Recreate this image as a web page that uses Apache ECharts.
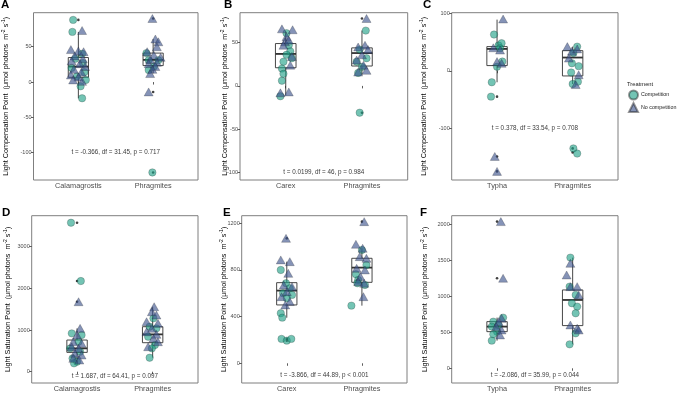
<!DOCTYPE html>
<html>
<head>
<meta charset="utf-8">
<script src="https://cdn.jsdelivr.net/npm/echarts@6/dist/echarts.min.js"></script>
<style>
html, body { margin: 0; padding: 0; background: #fff; }
#chart { width: 685px; height: 395px; }
</style>
</head>
<body>
<div id="chart"></div>
<script>
const FONT = "'Liberation Sans', Arial, sans-serif";

// categories per panel (A..F)
const panelLetters = ["A", "B", "C", "D", "E", "F"];
const panelCategories = [
	["Calamagrostis", "Phragmites"],
	["Carex", "Phragmites"],
	["Typha", "Phragmites"],
	["Calamagrostis", "Phragmites"],
	["Carex", "Phragmites"],
	["Typha", "Phragmites"],
];
const testLabels = [
	"t = -0.366, df = 31.45, p = 0.717",
	"t = 0.0199, df = 46, p = 0.984",
	"t = 0.378, df = 33.54, p = 0.708",
	"t = 1.687, df = 64.41, p = 0.097",
	"t = -3.866, df = 44.89, p < 0.001",
	"t = -2.086, df = 35.99, p = 0.044",
];
const labelPos = [1.5, -100];

// points: [jitter, value]
const aCalComp = [[-0.07, 88], [-0.08, 71], [0.05, 40], [-0.04, 33], [0.06, 27], [-0.09, 20], [0.08, 14], [-0.02, 8], [0.1, 3], [0.03, -6], [0.05, -23]];
const aCalNoComp = [[0.05, 73], [-0.1, 46], [0.0, 44], [0.07, 43], [-0.05, 37], [0.06, 33], [-0.09, 30], [0.02, 26], [0.09, 22], [-0.06, 18], [0.04, 14], [-0.1, 10], [0.0, 7], [-0.07, 3], [0.05, 1]];
const aPhrComp = [[-0.09, 41], [-0.06, 31], [0.07, 31], [0.01, 22], [-0.06, 17], [-0.01, -128]];
const aPhrNoComp = [[-0.01, 90], [0.03, 61], [0.07, 57], [0.05, 50], [-0.08, 43], [0.01, 38], [0.1, 35], [-0.04, 32], [0.05, 28], [-0.06, 26], [0.03, 22], [-0.01, 18], [-0.04, 12], [-0.06, -14]];
const aBoxes = [[-23, 6.7, 21.9, 34.7, 71], [12.4, 23.3, 31.4, 41, 61]];
const aOutliers = [[88], [90, -14, -128]];

const bCarComp = [[0.01, 61], [0.04, 47], [0.06, 40], [0.01, 36], [0.08, 32], [-0.03, 28], [-0.05, 20], [-0.03, 14], [-0.05, 6], [-0.07, -12]];
const bCarNoComp = [[-0.05, 66], [0.09, 65], [0.01, 57], [-0.01, 51], [-0.03, 47], [0.04, 53], [0.08, 34], [0.06, 24], [-0.07, -8], [0.04, -7]];
const bPhrComp = [[0.05, 64], [-0.03, 42], [-0.07, 28], [0.06, 32], [0.0, 22], [-0.05, 15], [-0.03, -31]];
const bPhrNoComp = [[0.06, 78], [-0.05, 45], [0.04, 47], [0.08, 42], [0.0, 36], [-0.07, 30], [0.02, 24], [0.06, 18], [-0.05, 16]];
const bBoxes = [[-11, 21, 37, 49, 63], [13, 23, 38, 44, 64]];
const bOutliers = [[], [78, -31]];

const cTypComp = [[-0.04, 63], [0.02, 44], [0.06, 48], [0.04, 39], [0.07, 16], [0.0, 7], [-0.07, -20], [-0.08, -45]];
const cTypNoComp = [[0.08, 90], [-0.05, 40], [0.0, 16], [0.06, 13], [0.04, 36], [-0.03, -149], [0.0, -175]];
const cPhrComp = [[0.06, 42], [0.01, 31], [-0.01, 13], [0.08, 8], [-0.02, -3], [0.07, -19], [0.0, -23], [0.01, -135], [0.06, -144]];
const cPhrNoComp = [[-0.07, 42], [-0.01, 34], [0.06, 38], [-0.05, 22], [0.08, -7], [0.04, -24]];
const cBoxes = [[-20, 9, 38, 42, 89], [-23, -9, 23, 35, 42]];
const cOutliers = [[-45, -149, -175], [-135, -142]];

const dCalComp = [[-0.08, 3576], [0.05, 2176], [-0.07, 920], [0.02, 720], [-0.09, 560], [0.04, 480], [-0.06, 320], [0.0, 240], [-0.04, 200], [0.06, 880]];
const dCalNoComp = [[0.02, 1680], [0.04, 1040], [0.0, 880], [-0.05, 720], [0.06, 680], [-0.07, 600], [0.02, 560], [-0.03, 440], [0.06, 400], [-0.05, 320], [0.03, 280]];
const dPhrComp = [[0.01, 1280], [-0.04, 1080], [0.05, 1040], [-0.06, 840], [0.03, 640], [-0.01, 560], [-0.04, 336]];
const dPhrNoComp = [[0.02, 1560], [-0.01, 1440], [0.05, 1360], [-0.08, 1200], [0.07, 1160], [-0.01, 1040], [-0.08, 960], [0.05, 896], [0.01, 800], [0.07, 720], [-0.06, 600]];
const dBoxes = [[200, 464, 560, 760, 1040], [336, 696, 896, 1080, 1560]];
const dOutliers = [[3576, 2176, 1680], []];

const eCarComp = [[-0.08, 800], [-0.01, 686], [0.04, 643], [-0.05, 600], [0.07, 586], [0.0, 557], [-0.08, 429], [-0.06, 391], [-0.07, 209], [0.0, 194], [0.06, 209]];
const eCarNoComp = [[-0.01, 1071], [-0.08, 886], [0.04, 871], [0.02, 771], [-0.04, 671], [0.07, 657], [0.0, 614], [-0.07, 571], [0.04, 529], [-0.02, 500]];
const ePhrComp = [[0.0, 971], [0.06, 843], [-0.08, 763], [-0.05, 714], [-0.06, 686], [0.04, 671], [-0.14, 494]];
const ePhrNoComp = [[0.03, 1214], [-0.08, 1020], [0.01, 986], [-0.03, 914], [0.06, 900], [-0.07, 814], [0.04, 800], [-0.02, 743], [-0.05, 700], [0.03, 686], [0.02, 571]];
const eBoxes = [[391, 500, 623, 691, 871], [494, 694, 820, 900, 986]];
const eOutliers = [[1071, 209, 194], [1214]];

const fTypComp = [[0.08, 704], [-0.05, 648], [0.02, 602], [-0.07, 579], [0.0, 509], [-0.05, 472], [-0.07, 384]];
const fTypNoComp = [[0.05, 2037], [0.08, 1250], [0.06, 694], [0.02, 648], [-0.01, 579], [0.06, 532], [0.04, 463]];
const fPhrComp = [[-0.03, 1537], [-0.04, 1134], [0.04, 1019], [-0.01, 903], [0.06, 857], [0.04, 764], [0.04, 486], [-0.04, 333]];
const fPhrNoComp = [[-0.03, 1458], [-0.08, 1296], [0.06, 1134], [-0.03, 1134], [0.08, 1019], [-0.03, 602], [0.06, 556], [0.08, 532]];
const fBoxes = [[384, 509, 579, 648, 704], [333, 593, 949, 1088, 1537]];
const fOutliers = [[2037, 1250], []];

// y scales
const yMins = [-138.7, -108.9, -190, -271, -169, -204];
const yMaxs = [98.2, 84.7, 101, 3744, 1265, 2119];
const yTicks = [
	[-100, -50, 0, 50],
	[-100, -50, 0, 50],
	[-100, 0, 100],
	[0, 1000, 2000, 3000],
	[0, 400, 800, 1200],
	[0, 500, 1000, 1500, 2000],
];
const yTitleTop = "Light Compensation Point  (\u03bcmol photons  m";
const yTitleBottom = "Light Saturation Point  (\u03bcmol photons  m";

const panels = [
	{ comp: [aCalComp, aPhrComp], noComp: [aCalNoComp, aPhrNoComp], boxes: aBoxes, outliers: aOutliers },
	{ comp: [bCarComp, bPhrComp], noComp: [bCarNoComp, bPhrNoComp], boxes: bBoxes, outliers: bOutliers },
	{ comp: [cTypComp, cPhrComp], noComp: [cTypNoComp, cPhrNoComp], boxes: cBoxes, outliers: cOutliers },
	{ comp: [dCalComp, dPhrComp], noComp: [dCalNoComp, dPhrNoComp], boxes: dBoxes, outliers: dOutliers },
	{ comp: [eCarComp, ePhrComp], noComp: [eCarNoComp, ePhrNoComp], boxes: eBoxes, outliers: eOutliers },
	{ comp: [fTypComp, fPhrComp], noComp: [fTypNoComp, fPhrNoComp], boxes: fBoxes, outliers: fOutliers },
];

// layout
const grids = [
	{ left: 31.7, top: 12.7, width: 166.3, height: 167.3 },
	{ left: 240, top: 12.7, width: 167.7, height: 167.3 },
	{ left: 451.7, top: 12.7, width: 166.3, height: 167.3 },
	{ left: 31.7, top: 215.7, width: 166.3, height: 167.3 },
	{ left: 241.7, top: 215.7, width: 165.3, height: 167.3 },
	{ left: 451.7, top: 215.7, width: 166.3, height: 167.3 },
];
const nameGaps = [22.5, 10, 22.5, 18.5, 13, 22];
const letterPos = [[1, -1.5], [224, -1.5], [423, -1.5], [2, 206.5], [223, 206.5], [420, 206.5]];

const COMP_FILL = "rgba(31,161,135,0.78)";
const NOCOMP_FILL = "rgba(59,82,139,0.78)";
const BOX_WIDTH = 0.27;

function renderBox(params, api) {
	const x = api.value(0);
	const half = api.size([BOX_WIDTH, 0])[0] / 2;
	const lo = api.coord([x, api.value(1)]);
	const q1 = api.coord([x, api.value(2)]);
	const md = api.coord([x, api.value(3)]);
	const q3 = api.coord([x, api.value(4)]);
	const hi = api.coord([x, api.value(5)]);
	const stroke = { stroke: "#333", lineWidth: 0.9 };
	return {
		type: "group",
		children: [
			{ type: "line", shape: { x1: lo[0], y1: lo[1], x2: q1[0], y2: q1[1] }, style: stroke },
			{ type: "line", shape: { x1: q3[0], y1: q3[1], x2: hi[0], y2: hi[1] }, style: stroke },
			{
				type: "rect",
				shape: { x: q3[0] - half, y: q3[1], width: half * 2, height: q1[1] - q3[1] },
				style: { fill: "#fff", stroke: "#333", lineWidth: 0.9 },
			},
			{ type: "line", shape: { x1: md[0] - half, y1: md[1], x2: md[0] + half, y2: md[1] }, style: { stroke: "#333", lineWidth: 1.8 } },
		],
	};
}

const option = {
	animation: false,
	backgroundColor: "#fff",
	textStyle: { fontFamily: FONT },
	grid: grids.map((g) => ({ ...g, show: true, borderColor: "#7f7f7f", borderWidth: 1, backgroundColor: "transparent" })),
	xAxis: grids.map((g, i) => ({
		type: "value",
		gridIndex: i,
		min: 0.4,
		max: 2.6,
		splitLine: { show: false },
		axisLine: { show: false },
		axisTick: { show: true, length: 2.5, customValues: [1, 2], lineStyle: { color: "#333", width: 0.8 } },
		axisLabel: {
			customValues: [1, 2],
			formatter: (v) => panelCategories[i][Math.round(v) - 1],
			fontSize: 7.3,
			color: "#4d4d4d",
			margin: 2.5,
			fontFamily: FONT,
		},
	})),
	yAxis: grids.map((g, i) => ({
		type: "value",
		gridIndex: i,
		min: yMins[i],
		max: yMaxs[i],
		splitLine: { show: false },
		axisLine: { show: false },
		axisTick: { show: true, length: 2.5, customValues: yTicks[i], lineStyle: { color: "#333", width: 0.8 } },
		axisLabel: { customValues: yTicks[i], formatter: (v) => String(v), fontSize: 5.5, color: "#4d4d4d", margin: 2, fontFamily: FONT },
		name: "{t|" + (i < 3 ? yTitleTop : yTitleBottom) + "}{s|-2}{t| s}{s|-1}{t|)}",
		nameLocation: "middle",
		nameRotate: 90,
		nameGap: nameGaps[i],
		nameMoveOverlap: false,
		nameTextStyle: {
			rich: {
				t: { fontSize: 7.2, color: "#000", fontFamily: FONT },
				s: { fontSize: 5, color: "#000", fontFamily: FONT, verticalAlign: "top", padding: [0, 0, 5, 0] },
			},
		},
	})),
	legend: {
		data: [
			{ name: "Competition", icon: "circle" },
			{ name: "No competition", icon: "triangle" },
		],
		orient: "vertical",
		left: 628,
		top: 89.5,
		padding: 0,
		itemWidth: 9,
		itemHeight: 9,
		itemGap: 1.5,
		textStyle: { fontSize: 5.3, color: "#1a1a1a", fontFamily: FONT, padding: [0, 0, 0, -2] },
	},
	graphic: [
		{ type: "text", left: 627, top: 81, style: { text: "Treatment", fontSize: 5.8, fill: "#1a1a1a", fontFamily: FONT } },
		...panelLetters.map((l, i) => ({
			type: "text",
			left: letterPos[i][0],
			top: letterPos[i][1],
			style: { text: l, fontSize: 11.5, fontWeight: "bold", fill: "#000", fontFamily: FONT },
		})),
	],
	series: [],
};

panels.forEach((p, i) => {
	const axes = { xAxisIndex: i, yAxisIndex: i };
	option.series.push({
		type: "custom",
		...axes,
		silent: true,
		z: 1,
		renderItem: renderBox,
		encode: { x: 0, y: [1, 2, 3, 4, 5] },
		data: p.boxes.map((b, c) => [c + 1, ...b]),
	});
	option.series.push({
		type: "scatter",
		...axes,
		silent: true,
		z: 2,
		symbol: "circle",
		symbolSize: 2.6,
		itemStyle: { color: "#111" },
		data: p.outliers.flatMap((vals, c) => vals.map((v) => [c + 1, v])),
	});
	option.series.push({
		name: "Competition",
		type: "scatter",
		...axes,
		z: 3,
		symbol: "circle",
		symbolSize: 7.4,
		itemStyle: { color: COMP_FILL, borderColor: "rgba(20,20,20,0.55)", borderWidth: 0.5 },
		data: p.comp.flatMap((pts, c) => pts.map(([j, v]) => [c + 1 + j, v])),
	});
	option.series.push({
		name: "No competition",
		type: "scatter",
		...axes,
		z: 4,
		symbol: "triangle",
		symbolSize: [9, 8],
		itemStyle: { color: NOCOMP_FILL, borderColor: "rgba(20,20,20,0.55)", borderWidth: 0.5 },
		data: p.noComp.flatMap((pts, c) => pts.map(([j, v]) => [c + 1 + j, v])),
	});
	option.series.push({
		type: "scatter",
		...axes,
		silent: true,
		z: 5,
		symbolSize: 0,
		label: { show: true, position: "inside", formatter: testLabels[i], fontSize: 6.3, color: "#000", fontFamily: FONT },
		data: [labelPos],
	});
});

const chart = echarts.init(document.getElementById("chart"));
chart.setOption(option);
</script>
</body>
</html>
